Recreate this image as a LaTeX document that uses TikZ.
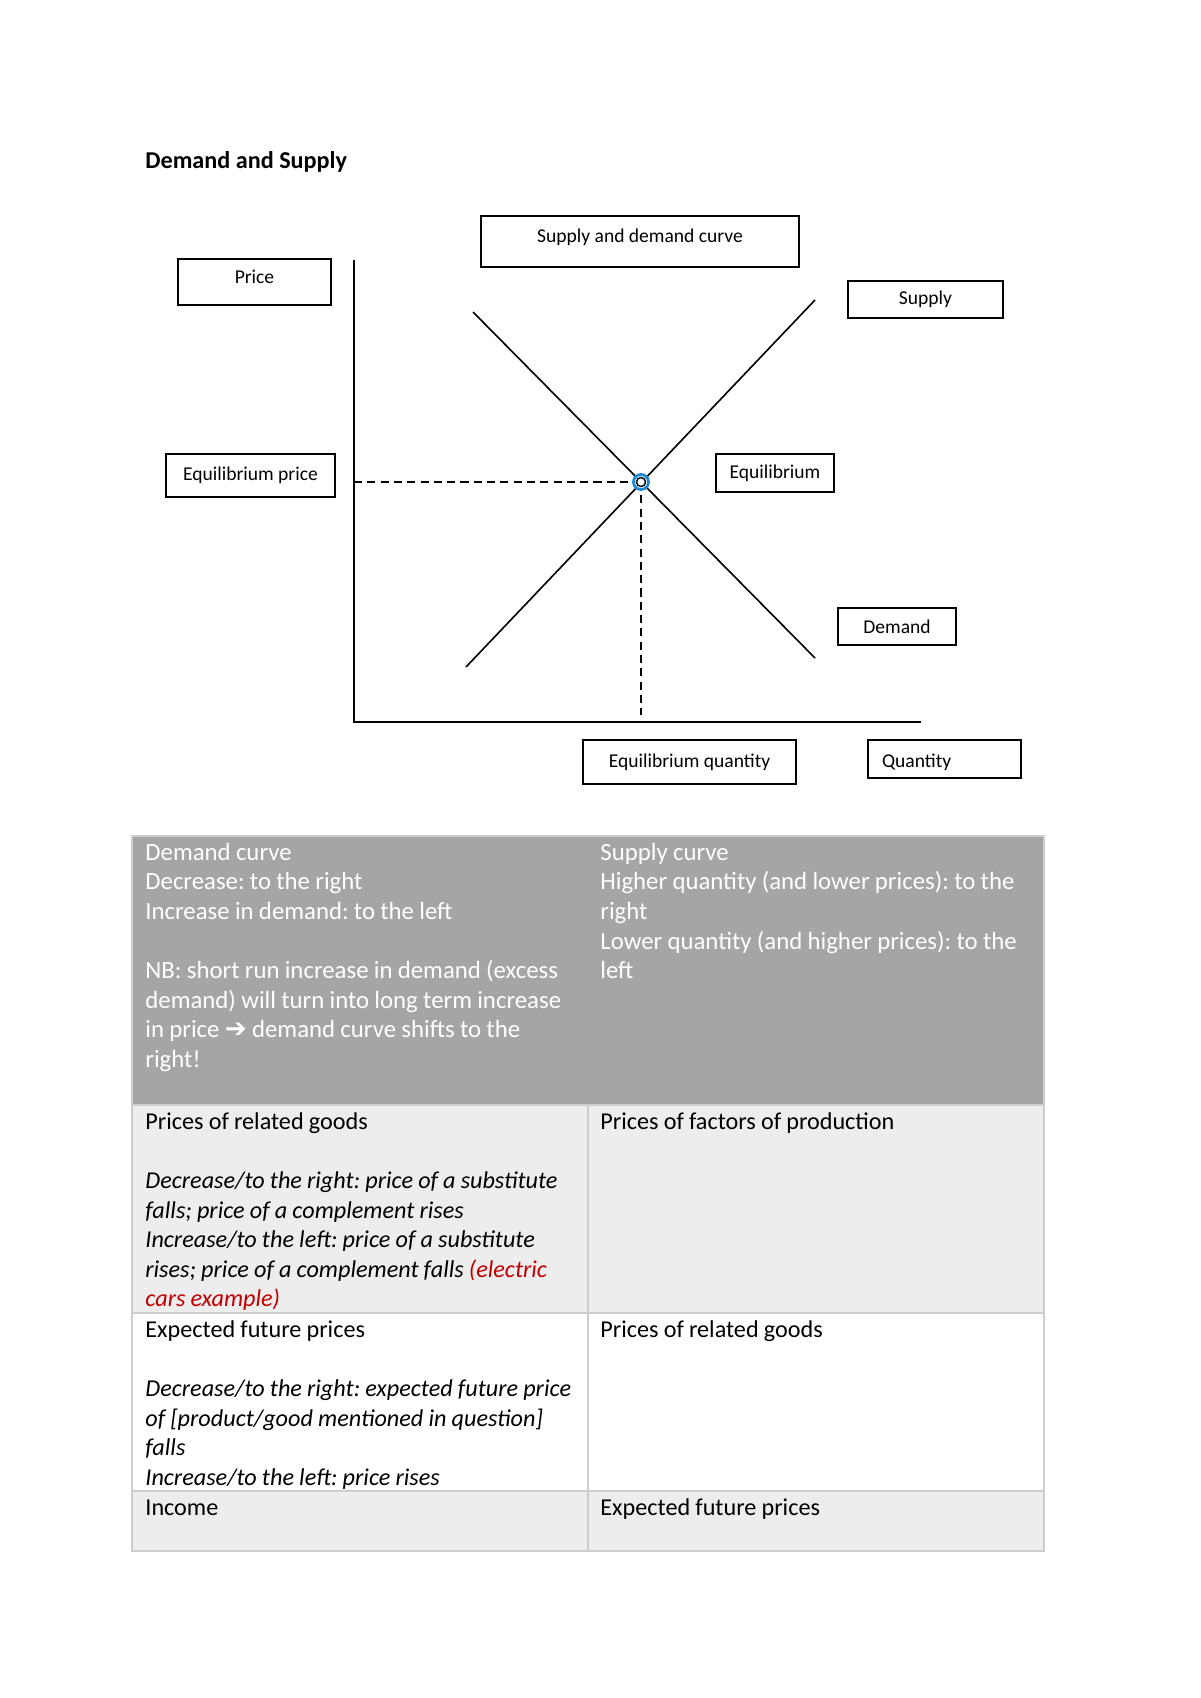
\documentclass[tikz,border=0pt]{standalone}
\usepackage{fontspec}
\setmainfont{Carlito}
\newfontfamily\arrowfont{DejaVu Sans}
\usepackage{tikz}
\usetikzlibrary{positioning}
\usepackage{xcolor}
\definecolor{hdgray}{HTML}{A5A5A5}
\definecolor{rowgray}{HTML}{EDEDED}
\definecolor{rulegray}{HTML}{CDCDCD}
\definecolor{eqblue}{HTML}{1E88D0}
\definecolor{notered}{HTML}{C00000}
\newlength\pxu
\setlength\pxu{0.4961pt}
\newcommand\cellstart{\spaceskip=0.213em\relax\strut}
\frenchspacing

\begin{document}
\begin{tikzpicture}[x=\pxu, y=-\pxu,
  box/.style={draw, line width=0.8pt, inner sep=0pt, font=\fontsize{9.7}{11}\selectfont},
  cell/.style={anchor=north west, inner sep=0pt, text width=230pt, align=left,
               font=\fontsize{12}{14.7}\selectfont},
  hcell/.style={cell, text=white, font=\fontsize{12.3}{14.7}\selectfont},
  curve/.style={line width=0.8pt},
  axis/.style={line width=1.1pt},
  guide/.style={dash pattern=on 4pt off 2.6pt, line width=0.8pt},
  rule/.style={draw=rulegray, line width=1pt}]
\useasboundingbox (0,0) rectangle (1200,1698);

\node[anchor=base west, inner sep=0pt, font=\fontsize{12}{14}\selectfont\bfseries] (ttl) at (145,168) {Demand and Supply};

\node[box, minimum width=318\pxu, minimum height=51\pxu, text depth=12\pxu] (sdc) at (640,241.5) {Supply and demand curve};
\node[box, minimum width=153\pxu, minimum height=46\pxu, text depth=10\pxu] (pr)  at (254.5,282)  {Price};
\node[box, minimum width=155\pxu, minimum height=37\pxu] (sup) at (925.5,299.5) {Supply};
\node[box, minimum width=169\pxu, minimum height=43\pxu] (eqp) at (250.5,475.5) {Equilibrium price};
\node[box, minimum width=118\pxu, minimum height=38\pxu] (eql) at (775,473)    {Equilibrium};
\node[box, minimum width=118\pxu, minimum height=37\pxu] (dem) at (897,626.5)  {Demand};
\node[box, minimum width=213\pxu, minimum height=44\pxu] (eqq) at (689.5,762)  {Equilibrium quantity};
\node[box, minimum width=153\pxu, minimum height=38\pxu, text width=125\pxu, align=left, text height=20\pxu] (qty) at (944.5,759) {Quantity};

\coordinate (O)    at (354,722);
\coordinate (ytop) at (354,260);
\coordinate (xend) at (921,722);
\coordinate (E)    at (641,482);
\coordinate (Ey)   at (354,482);
\coordinate (Ex)   at (641,715);
\coordinate (dA)   at (473,312);
\coordinate (dB)   at (815,658);
\coordinate (sA)   at (466,667);
\coordinate (sB)   at (815,300);

\draw[axis] (ytop) -- (O) -- (xend);
\draw[curve] (dA) -- (dB);
\draw[curve] (sA) -- (sB);
\draw[guide] (Ey) -- (E);
\draw[guide] (E) -- (Ex);
\node[circle, draw=eqblue, line width=1.4pt, fill=white, minimum size=15\pxu, inner sep=0pt] (eqpt) at (E) {};
\draw[line width=0.7pt] (E) circle (4.5);

\fill[hdgray]  (132,836)  rectangle (1044,1105);
\fill[rowgray] (132,1105) rectangle (1044,1313);
\fill[rowgray] (132,1491) rectangle (1044,1551);
\draw[rule] (132,836) rectangle (1044,1551);
\draw[rule] (132,1105) -- (1044,1105);
\draw[rule] (132,1313) -- (1044,1313);
\draw[rule] (132,1491) -- (1044,1491);
\draw[rule] (588,1105) -- (588,1551);

\node[hcell] (hdl) at (145,839) {\cellstart Demand curve\\
  Decrease: to the right\\
  Increase in demand: to the left\\[14.7pt]
  NB: short run increase in demand (excess\\
  demand) will turn into long term increase\\
  in price {\arrowfont\fontsize{13}{14.7}\selectfont ➔} demand curve shifts to the\\
  right!};
\node[hcell] (hdr) at (600,839) {\cellstart Supply curve\\
  Higher quantity (and lower prices): to the\\
  right\\
  Lower quantity (and higher prices): to the\\
  left};

\node[cell] (rgl) at (145,1108) {\cellstart Prices of related goods\\[14.7pt]
  \itshape Decrease/to the right: price of a substitute\\
  falls; price of a complement rises\\
  Increase/to the left: price of a substitute\\
  rises; price of a complement falls {\color{notered}(electric}\\
  {\color{notered}cars example)}};
\node[cell] (rgr) at (600,1108) {\cellstart Prices of factors of production};

\node[cell] (efl) at (145,1316) {\cellstart Expected future prices\\[14.7pt]
  \itshape Decrease/to the right: expected future price\\
  of [product/good mentioned in question]\\
  falls\\
  Increase/to the left: price rises};
\node[cell] (efr) at (600,1316) {\cellstart Prices of related goods};

\node[cell] (inl) at (145,1494) {\cellstart Income};
\node[cell] (inr) at (600,1494) {\cellstart Expected future prices};
\end{tikzpicture}
\end{document}
